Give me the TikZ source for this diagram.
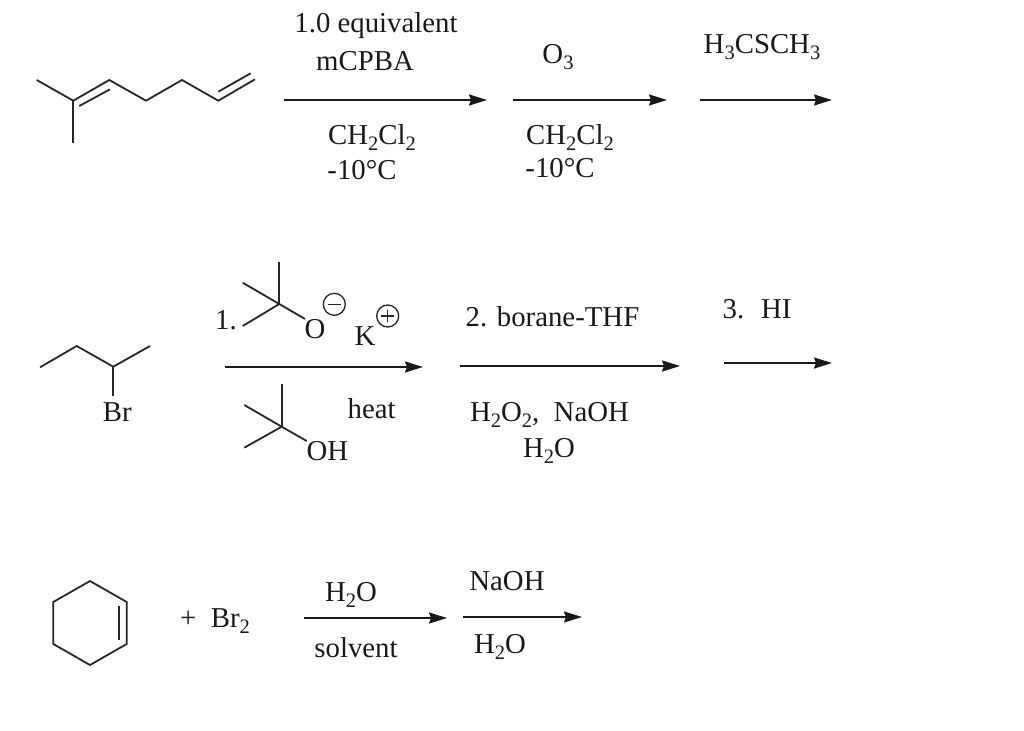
\documentclass[tikz,border=0pt]{standalone}
\usepackage{fontspec}
\setmainfont{Liberation Serif}
\usetikzlibrary{arrows.meta}
\tikzset{
	bond/.style={line width=1.8pt, black!85},
	rxnarrow/.style={line width=1.9pt, black!90, -{Stealth[length=18pt,width=11pt,inset=2pt]}},
	chem/.style={anchor=base, inner sep=0pt, font=\fontsize{28.8}{33}\selectfont, text=black!90},
	charge/.style={line width=1.3pt, black!85}
}
\def\Sb#1{\raisebox{-6pt}{\fontsize{20.5}{20}\selectfont #1}}
\begin{document}
\begin{tikzpicture}[x=1pt, y=-1pt]
	\useasboundingbox (0, 0) rectangle (1024, 730);
	%%%%% START %%%%%
	\draw[bond] (36.7, 80) -- (73.3, 100.7) -- (109.3, 80) -- (146, 100.7) -- (182, 80) -- (218.3, 100.7) -- (255, 79.3);
	\draw[bond] (79.3, 106) -- (110, 89.3);
	\draw[bond] (218.3, 91.7) -- (250.7, 73.3);
	\draw[bond] (73.3, 100.7) -- (73.3, 143.3);

	\node[chem] (equiv) at (376, 33) {1.0 equivalent};
	\node[chem] (mcpba) at (365, 71) {mCPBA};
	\node[chem] (dcmA) at (372, 145) {CH\Sb{2}Cl\Sb{2}};
	\node[chem] (tempA) at (362, 179) {-10°C};
	\node[chem] (ozone) at (558, 64) {O\Sb{3}};
	\node[chem] (dcmB) at (570, 145) {CH\Sb{2}Cl\Sb{2}};
	\node[chem] (tempB) at (560, 178) {-10°C};
	\node[chem] (dms) at (762, 54) {H\Sb{3}CSCH\Sb{3}};

	\coordinate (arrowAs) at (284, 100);
	\coordinate (arrowAe) at (487, 100);
	\coordinate (arrowBs) at (513, 100);
	\coordinate (arrowBe) at (667, 100);
	\coordinate (arrowCs) at (700, 100);
	\coordinate (arrowCe) at (832, 100);
	\draw[rxnarrow] (arrowAs) -- (arrowAe);
	\draw[rxnarrow] (arrowBs) -- (arrowBe);
	\draw[rxnarrow] (arrowCs) -- (arrowCe);

	\draw[bond] (40, 367.3) -- (76.7, 346) -- (113.3, 366.7) -- (150, 346);
	\draw[bond] (113.3, 366.7) -- (113.3, 396);
	\node[chem] (bromide) at (117.3, 421) {Br};

	\node[chem] (stepone) at (226, 329) {1.};
	\draw[bond] (279.3, 262) -- (279.3, 304);
	\draw[bond] (242.7, 282.7) -- (279.3, 304) -- (305, 319);
	\draw[bond] (242.7, 326) -- (279.3, 304);
	\node[chem] (oxide) at (315, 338) {O};
	\node[chem] (potassium) at (365, 345) {K};
	\draw[charge] (334.3, 304.3) circle (11);
	\draw[charge] (328, 304.3) -- (340.6, 304.3);
	\draw[charge] (387.7, 316) circle (11);
	\draw[charge] (381.4, 316) -- (394, 316);
	\draw[charge] (387.7, 309.7) -- (387.7, 322.3);

	\draw[bond] (281.7, 384) -- (281.7, 426.7);
	\draw[bond] (244.3, 405) -- (281.7, 426.7) -- (306.7, 441);
	\draw[bond] (244.3, 447.7) -- (281.7, 426.7);
	\node[chem] (hydroxyl) at (327.3, 460) {OH};
	\node[chem] (heat) at (371.7, 418) {heat};
	\node[chem] (borane) at (552.5, 326) {2. borane-THF};
	\node[chem] (peroxide) at (549.5, 421) {H\Sb{2}O\Sb{2},~ NaOH};
	\node[chem] (waterA) at (549, 457) {H\Sb{2}O};
	\node[chem] (acid) at (757, 318) {3.~ HI};

	\coordinate (arrowDs) at (225, 367);
	\coordinate (arrowDe) at (423, 367);
	\coordinate (arrowEs) at (460, 366);
	\coordinate (arrowEe) at (680, 366);
	\coordinate (arrowFs) at (724, 363);
	\coordinate (arrowFe) at (832, 363);
	\draw[rxnarrow] (arrowDs) -- (arrowDe);
	\draw[rxnarrow] (arrowEs) -- (arrowEe);
	\draw[rxnarrow] (arrowFs) -- (arrowFe);

	\draw[bond] (90, 581) -- (126.7, 602) -- (126.7, 644) -- (90, 665) -- (53.3, 644) -- (53.3, 602) -- cycle;
	\draw[bond] (118.7, 606) -- (118.7, 640);
	\node[chem] (bromine) at (215, 627) {+~ Br\Sb{2}};
	\node[chem] (waterB) at (351, 601) {H\Sb{2}O};
	\node[chem] (solvent) at (356, 657) {solvent};
	\node[chem] (base) at (507, 590) {NaOH};
	\node[chem] (waterC) at (500, 653) {H\Sb{2}O};

	\coordinate (arrowGs) at (304, 618);
	\coordinate (arrowGe) at (447, 618);
	\coordinate (arrowHs) at (463, 617);
	\coordinate (arrowHe) at (582, 617);
	\draw[rxnarrow] (arrowGs) -- (arrowGe);
	\draw[rxnarrow] (arrowHs) -- (arrowHe);
	%%%%% END %%%%%
\end{tikzpicture}
\end{document}
